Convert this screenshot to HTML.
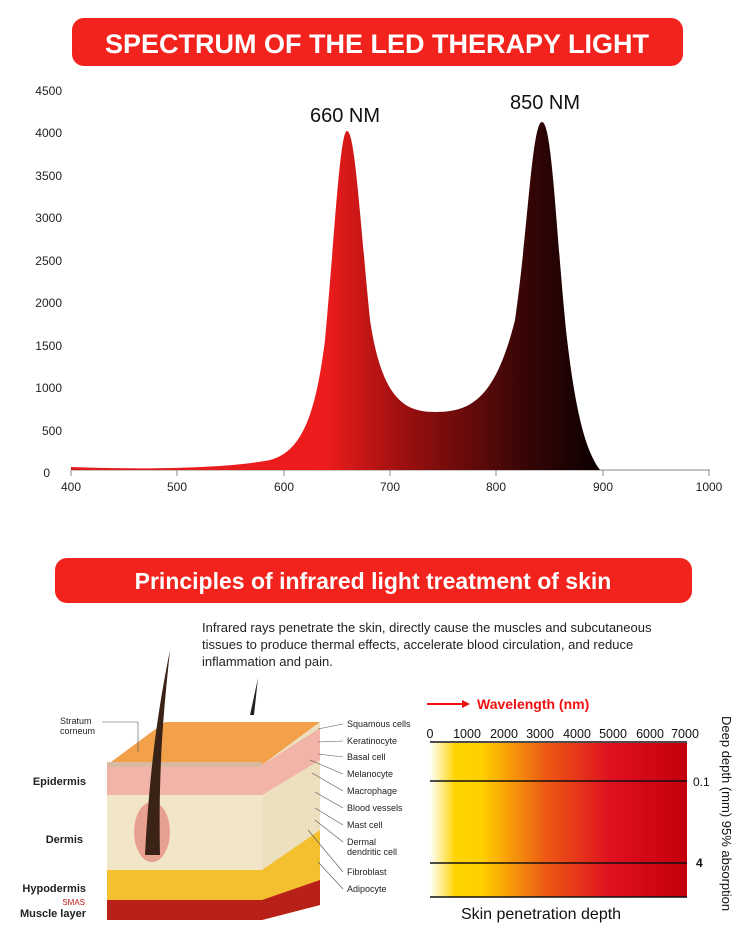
<!DOCTYPE html>
<html><head><meta charset="utf-8"><style>
body{margin:0;width:750px;height:940px;background:#fff;overflow:hidden;font-family:"Liberation Sans",sans-serif}
</style></head><body>
<svg width="750" height="940" xmlns="http://www.w3.org/2000/svg" style="position:absolute;left:0;top:0">
<defs>
<linearGradient id="sp" x1="0" x2="1"><stop offset="0" stop-color="#e01b1b"/><stop offset="0.48" stop-color="#ee1c1c"/><stop offset="0.62" stop-color="#a01010"/><stop offset="0.85" stop-color="#3a0606"/><stop offset="1" stop-color="#0a0000"/></linearGradient>
<linearGradient id="pg" x1="0" x2="1"><stop offset="0" stop-color="#fff"/><stop offset="0.1" stop-color="#ffd400"/><stop offset="0.2" stop-color="#ffd000"/><stop offset="0.45" stop-color="#ec5a14"/><stop offset="0.7" stop-color="#e01020"/><stop offset="1" stop-color="#c4000d"/></linearGradient>
</defs>
<rect x="72" y="18" width="611" height="48" rx="12" fill="#f2231c"/>
<text x="377" y="53" text-anchor="middle" font-size="27" font-weight="bold" fill="#fff">SPECTRUM OF THE LED THERAPY LIGHT</text>
<g font-size="12" fill="#222" text-anchor="end">
<text x="62" y="95">4500</text><text x="62" y="137">4000</text><text x="62" y="180">3500</text><text x="62" y="222">3000</text><text x="62" y="265">2500</text><text x="62" y="307">2000</text><text x="62" y="350">1500</text><text x="62" y="392">1000</text><text x="62" y="435">500</text><text x="50" y="477">0</text>
</g>
<line x1="71" y1="470" x2="710" y2="470" stroke="#888"/>
<g stroke="#888"><line x1="71" y1="470" x2="71" y2="476"/><line x1="177" y1="470" x2="177" y2="476"/><line x1="284" y1="470" x2="284" y2="476"/><line x1="390" y1="470" x2="390" y2="476"/><line x1="496" y1="470" x2="496" y2="476"/><line x1="603" y1="470" x2="603" y2="476"/><line x1="709" y1="470" x2="709" y2="476"/></g>
<g font-size="12" fill="#222" text-anchor="middle">
<text x="71" y="491">400</text><text x="177" y="491">500</text><text x="284" y="491">600</text><text x="390" y="491">700</text><text x="496" y="491">800</text><text x="603" y="491">900</text><text x="709" y="491">1000</text></g>
<path d="M71,467 C150,470 230,468 270,460 C300,452 315,420 325,340 C335,230 340,131 347,131 C355,131 360,220 370,320 C382,400 405,412 435,412 C470,412 495,400 515,320 C528,230 532,122 542,122 C552,122 556,230 566,330 C575,410 585,450 600,470 L71,470 Z" fill="url(#sp)"/>
<text x="345" y="122" font-size="20" text-anchor="middle" fill="#111">660 NM</text>
<text x="545" y="109" font-size="20" text-anchor="middle" fill="#111">850 NM</text>
<rect x="55" y="558" width="637" height="45" rx="12" fill="#f2231c"/>
<text x="373" y="589" text-anchor="middle" font-size="23" font-weight="bold" fill="#fff">Principles of infrared light treatment of skin</text>
<g font-size="13" fill="#222"><text x="202" y="632">Infrared rays penetrate the skin, directly cause the muscles and subcutaneous</text><text x="202" y="649">tissues to produce thermal effects, accelerate blood circulation, and reduce</text><text x="202" y="666">inflammation and pain.</text></g>
<polygon points="107,765 165,722 320,722 262,765" fill="#f2a04a"/>
<polygon points="262,765 320,722 320,905 262,920" fill="#ece0bf"/>
<polygon points="262,765 320,728 320,760 262,795" fill="#f2b3a8"/>
<rect x="107" y="762" width="155" height="5" fill="#d8b8a0"/>
<rect x="107" y="767" width="155" height="28" fill="#f2b3a8"/>
<rect x="107" y="795" width="155" height="75" fill="#f2e6c8"/>
<rect x="107" y="870" width="155" height="30" fill="#f5c030"/>
<rect x="107" y="900" width="155" height="20" fill="#b8201a"/>
<polygon points="262,870 320,830 320,905 262,920" fill="#f5c030"/>
<polygon points="262,900 320,880 320,905 262,920" fill="#b8201a"/>
<ellipse cx="152" cy="832" rx="18" ry="30" fill="#e8a090"/>
<path d="M170,650 C160,700 150,760 145,855 L160,855 C158,760 165,700 170,650Z" fill="#3a2216"/>
<path d="M250,715 L258,678 L254,715Z" fill="#222"/>
<g stroke="#555" stroke-width="0.6" fill="none"><path d="M102,722 H138 V752"/><path d="M343,724 L318,729"/><path d="M343,741 L318,742"/><path d="M343,757 L318,754"/><path d="M343,774 L310,760"/><path d="M343,791 L312,773"/><path d="M343,808 L315,792"/><path d="M343,825 L315,808"/><path d="M343,842 L315,820"/><path d="M343,872 L308,830"/><path d="M343,889 L318,862"/></g>
<g font-size="9" fill="#222"><text x="60" y="724">Stratum</text><text x="60" y="734">corneum</text>
<text x="347" y="727">Squamous cells</text><text x="347" y="744">Keratinocyte</text><text x="347" y="760">Basal cell</text><text x="347" y="777">Melanocyte</text><text x="347" y="794">Macrophage</text><text x="347" y="811">Blood vessels</text><text x="347" y="828">Mast cell</text><text x="347" y="845">Dermal</text><text x="347" y="855">dendritic cell</text><text x="347" y="875">Fibroblast</text><text x="347" y="892">Adipocyte</text></g>
<g font-size="11" font-weight="bold" fill="#222" text-anchor="end"><text x="86" y="785">Epidermis</text><text x="83" y="843">Dermis</text><text x="86" y="892">Hypodermis</text><text x="86" y="917">Muscle layer</text></g>
<text x="85" y="905" font-size="8" fill="#c01818" text-anchor="end">SMAS</text>
<line x1="427" y1="704" x2="462" y2="704" stroke="#f01010" stroke-width="2"/><polygon points="462,700 470,704 462,708" fill="#f01010"/>
<text x="477" y="709" font-size="14" font-weight="bold" fill="#f01010">Wavelength (nm)</text>
<g font-size="12.5" fill="#111" text-anchor="middle"><text x="430" y="738">0</text><text x="467" y="738">1000</text><text x="504" y="738">2000</text><text x="540" y="738">3000</text><text x="577" y="738">4000</text><text x="613" y="738">5000</text><text x="650" y="738">6000</text><text x="685" y="738">7000</text></g>
<rect x="430" y="743" width="257" height="154" fill="url(#pg)"/>
<line x1="430" y1="742" x2="687" y2="742" stroke="#111" stroke-width="1.5"/>
<line x1="430" y1="781" x2="687" y2="781" stroke="#111" stroke-width="1.5"/>
<line x1="430" y1="863" x2="687" y2="863" stroke="#111" stroke-width="1.5"/>
<line x1="430" y1="897" x2="687" y2="897" stroke="#111" stroke-width="1.5"/>
<text x="693" y="786" font-size="12" fill="#111">0.1</text><text x="696" y="867" font-size="12" font-weight="bold" fill="#111">4</text>
<text x="541" y="919" font-size="16" fill="#111" text-anchor="middle">Skin penetration depth</text>
<text transform="translate(722,716) rotate(90)" font-size="13" fill="#111">Deep depth (mm) 95% absorption</text>
</svg>
</body></html>
